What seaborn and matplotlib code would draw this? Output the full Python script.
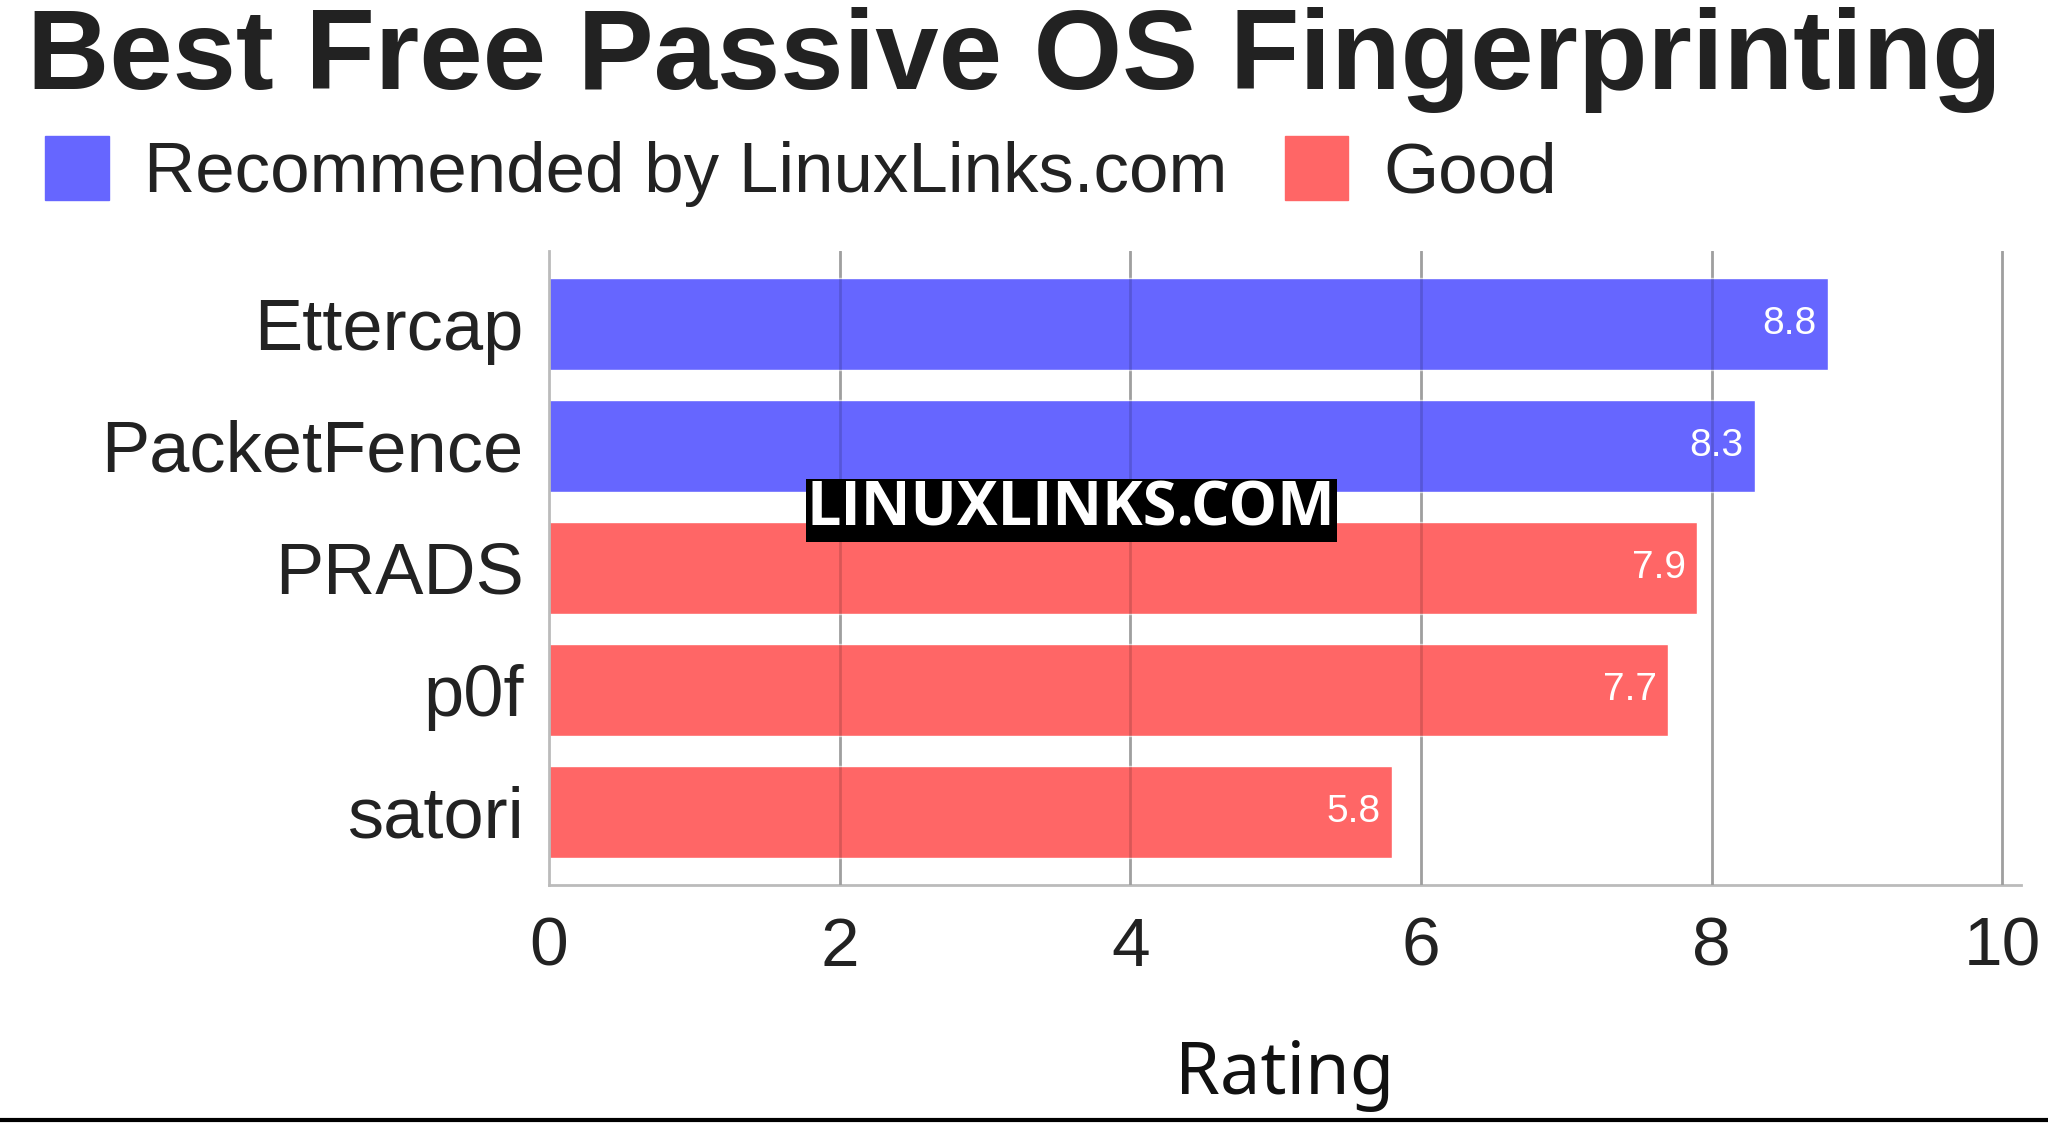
import matplotlib
matplotlib.use("Agg")
import matplotlib.pyplot as plt
import seaborn as sns
import pandas as pd
from matplotlib.patches import Patch

names = ["Ettercap", "PacketFence", "PRADS", "p0f", "satori"]
ratings = [8.8, 8.3, 7.9, 7.7, 5.8]
groups = ["Recommended by LinuxLinks.com", "Recommended by LinuxLinks.com", "Good", "Good", "Good"]
palette = {"Recommended by LinuxLinks.com": "#6666ff", "Good": "#ff6666"}

sns.set_theme(style="white")
plt.rcParams['font.family'] = ['Liberation Sans', 'DejaVu Sans']

df = pd.DataFrame({"name": names, "rating": ratings, "group": groups})
fig = plt.figure(figsize=(20.48, 11.24), dpi=100)
ax = fig.add_axes([0.268, 0.2125, 0.987 - 0.268, 0.777 - 0.2125])
sns.barplot(data=df, x="rating", y="name", hue="group", palette=palette,
            dodge=False, width=0.75, ax=ax, legend=False, saturation=1, zorder=1)
ax.set_xlim(0, 10.13)
ax.set_ylim(4.6, -0.6)
ax.set_xticks([0, 2, 4, 6, 8, 10])
for xv in [2, 4, 6, 8, 10]:
    ax.axvline(xv, color="#bbbbbb", lw=2, zorder=0.5)
    ax.axvline(xv, color="#000000", lw=2, alpha=0.15, zorder=3)
for s in ["top", "right"]:
    ax.spines[s].set_visible(False)
ax.spines["left"].set_color("#bbbbbb"); ax.spines["left"].set_linewidth(2)
ax.spines["bottom"].set_color("#bbbbbb"); ax.spines["bottom"].set_linewidth(2)
ax.tick_params(axis="y", labelsize=52, colors="#222222", length=0, pad=18)
ax.tick_params(axis="x", labelsize=50, colors="#222222", length=0, pad=22)
ax.set_ylabel("")
ax.set_xlabel("Rating", fontsize=52, family=["Noto Sans", "DejaVu Sans"], color="#111111", labelpad=42)
for i, v in enumerate(ratings):
    ax.text(v - 0.08, i, f"{v}", ha="right", va="center", color="white", fontsize=28, zorder=4)

fig.text(0.013, 0.947, "Best Free Passive OS Fingerprinting", fontsize=82, fontweight="bold",
         color="#222222", va="center", ha="left")
handles = [Patch(color="#6666ff"), Patch(color="#ff6666")]
fig.legend(handles, ["Recommended by LinuxLinks.com", "Good"], loc="center left",
           bbox_to_anchor=(-0.009, 0.847), ncol=2, frameon=False, fontsize=51,
           handlelength=0.9, handleheight=1.0, handletextpad=0.5, columnspacing=0.8,
           labelcolor="#222222")
fig.text(0.523, 0.546, "LINUXLINKS.COM", fontsize=44, fontweight="bold", color="white",
         family=["Open Sans", "DejaVu Sans"], ha="center", va="center",
         bbox=dict(facecolor="black", edgecolor="none", pad=1), zorder=10)
fig.add_artist(plt.Line2D([0, 1], [0.004, 0.004], color="black", lw=3))
fig.savefig("out.png", dpi=100)
